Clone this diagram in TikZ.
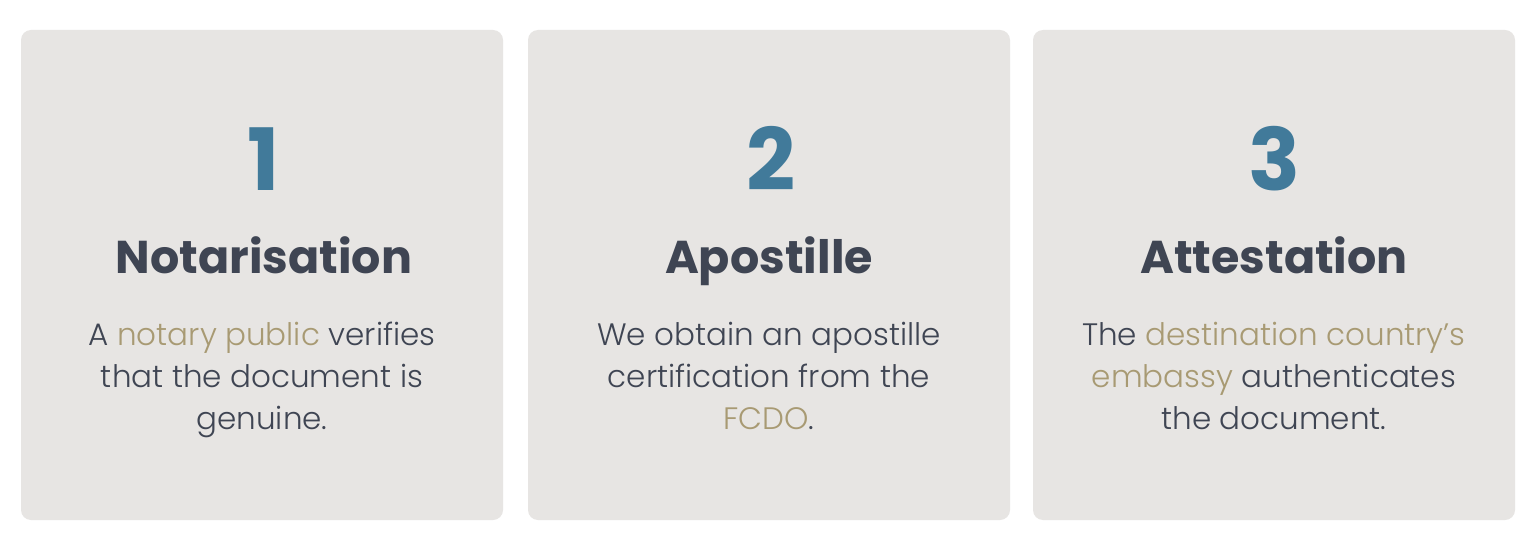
\documentclass[tikz,border=0pt]{standalone}
\usepackage{fontspec}
\setmainfont{Poppins}
\newfontfamily\lightfont{Poppins Light}
\definecolor{cardbg}{HTML}{E7E5E3}
\definecolor{numblue}{HTML}{417A9A}
\definecolor{darktxt}{HTML}{3F4553}
\definecolor{goldtxt}{HTML}{A89A73}
\tikzset{
  card/.style={fill=cardbg, draw=none, rounded corners=10pt},
  numtxt/.style={anchor=base, inner sep=0pt, text=numblue, font=\fontsize{86}{86}\selectfont\bfseries},
  titletxt/.style={anchor=base, inner sep=0pt, text=darktxt, font=\fontsize{46}{46}\selectfont\bfseries},
  bodytxt/.style={anchor=north, inner sep=0pt, text=darktxt, align=center, font=\lightfont\fontsize{31}{42}\selectfont}
}
\newcommand{\hl}[1]{\textcolor{goldtxt}{#1}}
\begin{document}
\begin{tikzpicture}[x=1pt,y=-1pt]
\useasboundingbox[fill=white] (0,0) rectangle (1536,548);
\path[card] (21,30) rectangle (503,520);
\path[card] (528,30) rectangle (1010,520);
\path[card] (1033,30) rectangle (1515,520);
% card 1
\node[numtxt] (n1) at (264,190) {1};
\node[titletxt] (t1) at (264,273) {Notarisation};
\node[bodytxt] (b1) at (262,322) {A \hl{notary public} verifies\\that the document is\\genuine.};
% card 2
\node[numtxt] (n2) at (771,190) {2};
\node[titletxt] (t2) at (769,273) {Apostille};
\node[bodytxt] (b2) at (769,322) {We obtain an apostille\\certification from the\\\hl{FCDO}.};
% card 3
\node[numtxt] (n3) at (1274,190) {3};
\node[titletxt] (t3) at (1274,273) {Attestation};
\node[bodytxt] (b3) at (1274,322) {The \hl{destination country’s}\\\hl{embassy} authenticates\\the document.};
\end{tikzpicture}
\end{document}
